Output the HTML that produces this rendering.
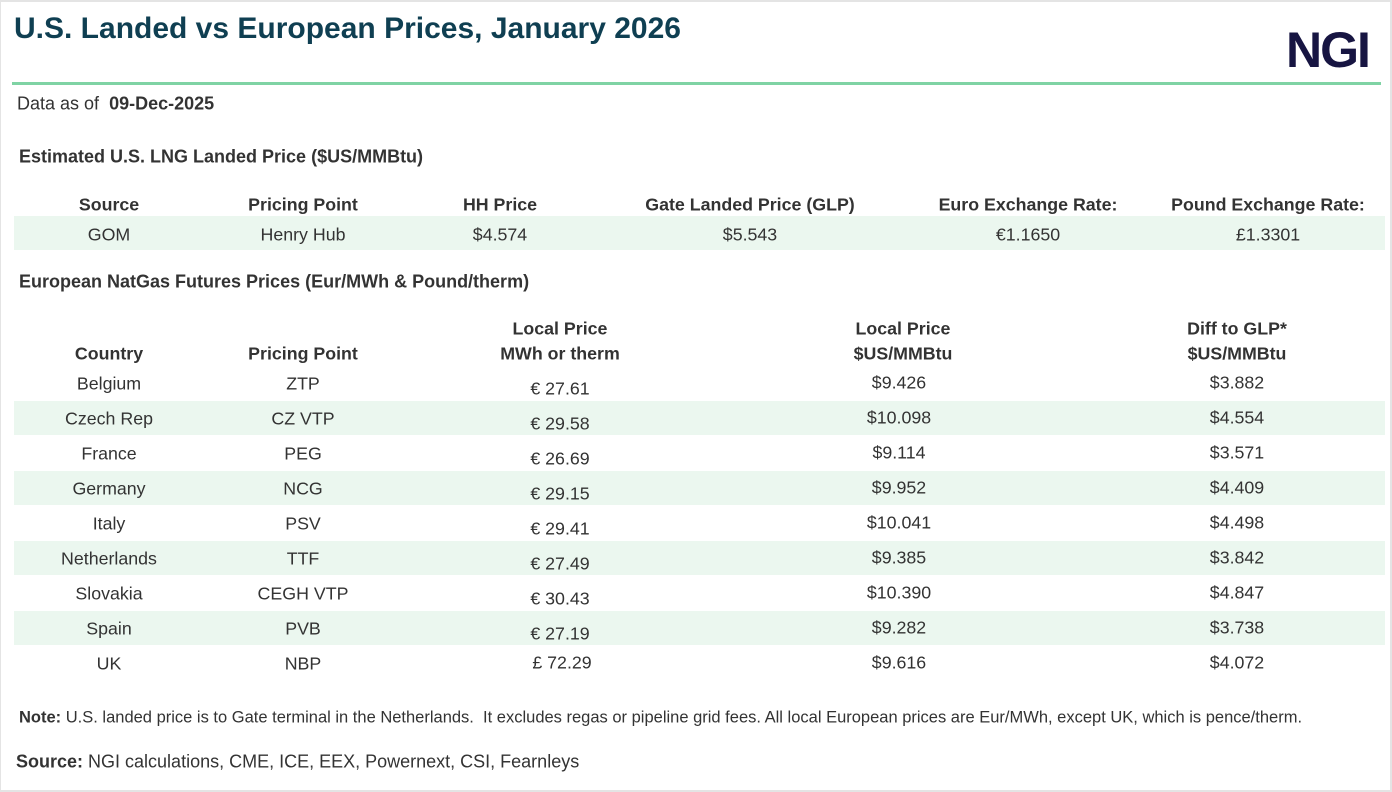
<!DOCTYPE html>
<html><head><meta charset="utf-8"><style>
body{margin:0;width:1392px;height:791px;background:#fff;position:relative;overflow:hidden;font-family:"Liberation Sans",Arial,sans-serif;color:#333;}
.frame{position:absolute;left:0;top:0;width:1389px;height:788px;border:1px solid #ddd;border-width:2px 2px 2px 1px;border-color:#e4e4e4;}
.c{position:absolute;transform:translate(-50%,-50%);white-space:nowrap;font-size:17.8px;}
.b{font-weight:bold;}
.l{position:absolute;white-space:nowrap;font-size:18px;transform:translateY(-50%);}
.band{position:absolute;left:14px;width:1371px;height:34px;background:#ebf7ef;}
</style></head><body>
<div class="frame"></div>
<div style="position:absolute;left:14px;top:12px;font-size:30px;font-weight:bold;color:#0f3f52;">U.S. Landed vs European Prices, January 2026</div>
<div style="position:absolute;left:1286px;top:25px;font-size:50px;font-weight:bold;color:#171542;letter-spacing:-2px;line-height:50px;">NGI</div>
<div style="position:absolute;left:12px;top:82px;width:1369px;height:3px;background:#7fd3a4;"></div>
<div class="l" style="left:17px;top:104px;">Data as of &nbsp;<b>09-Dec-2025</b></div>
<div class="l b" style="left:19px;top:157px;">Estimated U.S. LNG Landed Price ($US/MMBtu)</div>
<div class="band" style="top:216px;"></div>
<div class="c b" style="left:109px;top:205px;">Source</div>
<div class="c b" style="left:303px;top:205px;">Pricing Point</div>
<div class="c b" style="left:500px;top:205px;">HH Price</div>
<div class="c b" style="left:750px;top:205px;">Gate Landed Price (GLP)</div>
<div class="c b" style="left:1028px;top:205px;">Euro Exchange Rate:</div>
<div class="c b" style="left:1268px;top:205px;">Pound Exchange Rate:</div>
<div class="c" style="left:109px;top:235px;">GOM</div>
<div class="c" style="left:303px;top:235px;">Henry Hub</div>
<div class="c" style="left:500px;top:235px;">$4.574</div>
<div class="c" style="left:750px;top:235px;">$5.543</div>
<div class="c" style="left:1028px;top:235px;">€1.1650</div>
<div class="c" style="left:1268px;top:235px;">£1.3301</div>
<div class="l b" style="left:19px;top:282px;">European NatGas Futures Prices (Eur/MWh &amp; Pound/therm)</div>
<div class="c b" style="left:109px;top:354px;">Country</div>
<div class="c b" style="left:303px;top:354px;">Pricing Point</div>
<div class="c b" style="left:560px;top:329px;">Local Price</div>
<div class="c b" style="left:560px;top:354px;">MWh or therm</div>
<div class="c b" style="left:903px;top:329px;">Local Price</div>
<div class="c b" style="left:903px;top:354px;">$US/MMBtu</div>
<div class="c b" style="left:1237px;top:329px;">Diff to GLP*</div>
<div class="c b" style="left:1237px;top:354px;">$US/MMBtu</div>
<div class="band" style="top:401px;"></div>
<div class="band" style="top:471px;"></div>
<div class="band" style="top:541px;"></div>
<div class="band" style="top:611px;"></div>

<div class="c" style="left:109px;top:384px;">Belgium</div><div class="c" style="left:303px;top:384px;">ZTP</div><div class="c" style="left:560px;top:389px;">€ 27.61</div><div class="c" style="left:899px;top:383px;">$9.426</div><div class="c" style="left:1237px;top:383px;">$3.882</div>
<div class="c" style="left:109px;top:419px;">Czech Rep</div><div class="c" style="left:303px;top:419px;">CZ VTP</div><div class="c" style="left:560px;top:424px;">€ 29.58</div><div class="c" style="left:899px;top:418px;">$10.098</div><div class="c" style="left:1237px;top:418px;">$4.554</div>
<div class="c" style="left:109px;top:454px;">France</div><div class="c" style="left:303px;top:454px;">PEG</div><div class="c" style="left:560px;top:459px;">€ 26.69</div><div class="c" style="left:899px;top:453px;">$9.114</div><div class="c" style="left:1237px;top:453px;">$3.571</div>
<div class="c" style="left:109px;top:489px;">Germany</div><div class="c" style="left:303px;top:489px;">NCG</div><div class="c" style="left:560px;top:494px;">€ 29.15</div><div class="c" style="left:899px;top:488px;">$9.952</div><div class="c" style="left:1237px;top:488px;">$4.409</div>
<div class="c" style="left:109px;top:524px;">Italy</div><div class="c" style="left:303px;top:524px;">PSV</div><div class="c" style="left:560px;top:529px;">€ 29.41</div><div class="c" style="left:899px;top:523px;">$10.041</div><div class="c" style="left:1237px;top:523px;">$4.498</div>
<div class="c" style="left:109px;top:559px;">Netherlands</div><div class="c" style="left:303px;top:559px;">TTF</div><div class="c" style="left:560px;top:564px;">€ 27.49</div><div class="c" style="left:899px;top:558px;">$9.385</div><div class="c" style="left:1237px;top:558px;">$3.842</div>
<div class="c" style="left:109px;top:594px;">Slovakia</div><div class="c" style="left:303px;top:594px;">CEGH VTP</div><div class="c" style="left:560px;top:599px;">€ 30.43</div><div class="c" style="left:899px;top:593px;">$10.390</div><div class="c" style="left:1237px;top:593px;">$4.847</div>
<div class="c" style="left:109px;top:629px;">Spain</div><div class="c" style="left:303px;top:629px;">PVB</div><div class="c" style="left:560px;top:634px;">€ 27.19</div><div class="c" style="left:899px;top:628px;">$9.282</div><div class="c" style="left:1237px;top:628px;">$3.738</div>
<div class="c" style="left:109px;top:664px;">UK</div><div class="c" style="left:303px;top:664px;">NBP</div><div class="c" style="left:562px;top:663px;">£ 72.29</div><div class="c" style="left:899px;top:663px;">$9.616</div><div class="c" style="left:1237px;top:663px;">$4.072</div>

<div class="l" style="left:19px;top:718px;font-size:16.5px;"><b>Note:</b> U.S. landed price is to Gate terminal in the Netherlands.&nbsp; It excludes regas or pipeline grid fees. All local European prices are Eur/MWh, except UK, which is pence/therm.</div>
<div class="l" style="left:16px;top:762px;"><b>Source:</b> NGI calculations, CME, ICE, EEX, Powernext, CSI, Fearnleys</div>
</body></html>
